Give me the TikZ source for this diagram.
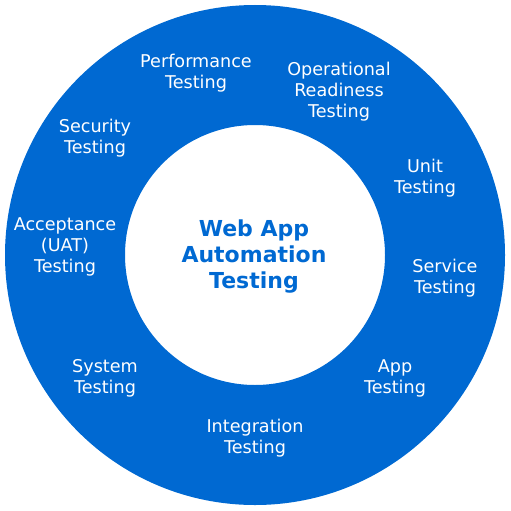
\documentclass[tikz,border=0pt]{standalone}
\usepackage{fontspec}
\setmainfont{DejaVu Sans}
\definecolor{ringblue}{HTML}{0069D2}
\tikzset{
    stage/.style={text=white, align=center, font=\fontsize{17.6}{21}\selectfont},
    hub/.style={text=ringblue, align=center, font=\bfseries\fontsize{22}{26}\selectfont}
}
\begin{document}
\begin{tikzpicture}[x=1pt, y=-1pt]
            \useasboundingbox (0, 0) rectangle (511, 511);
            \fill [ringblue, even odd rule] (255, 255) circle (250) (255, 255) circle (130);

            \node [hub] (hub) at (254, 257) {Web App\\Automation\\Testing};

            \node [stage] (perf) at (196, 73) {Performance\\Testing};
            \node [stage] (ops) at (339, 92) {Operational\\Readiness\\Testing};
            \node [stage] (unit) at (425, 178) {Unit\\Testing};
            \node [stage] (service) at (445, 278) {Service\\Testing};
            \node [stage] (app) at (395, 378) {App\\Testing};
            \node [stage] (integ) at (255, 438) {Integration\\Testing};
            \node [stage] (system) at (105, 378) {System\\Testing};
            \node [stage] (uat) at (65, 247) {Acceptance\\(UAT)\\Testing};
            \node [stage] (security) at (95, 138) {Security\\Testing};
        \end{tikzpicture}
\end{document}
